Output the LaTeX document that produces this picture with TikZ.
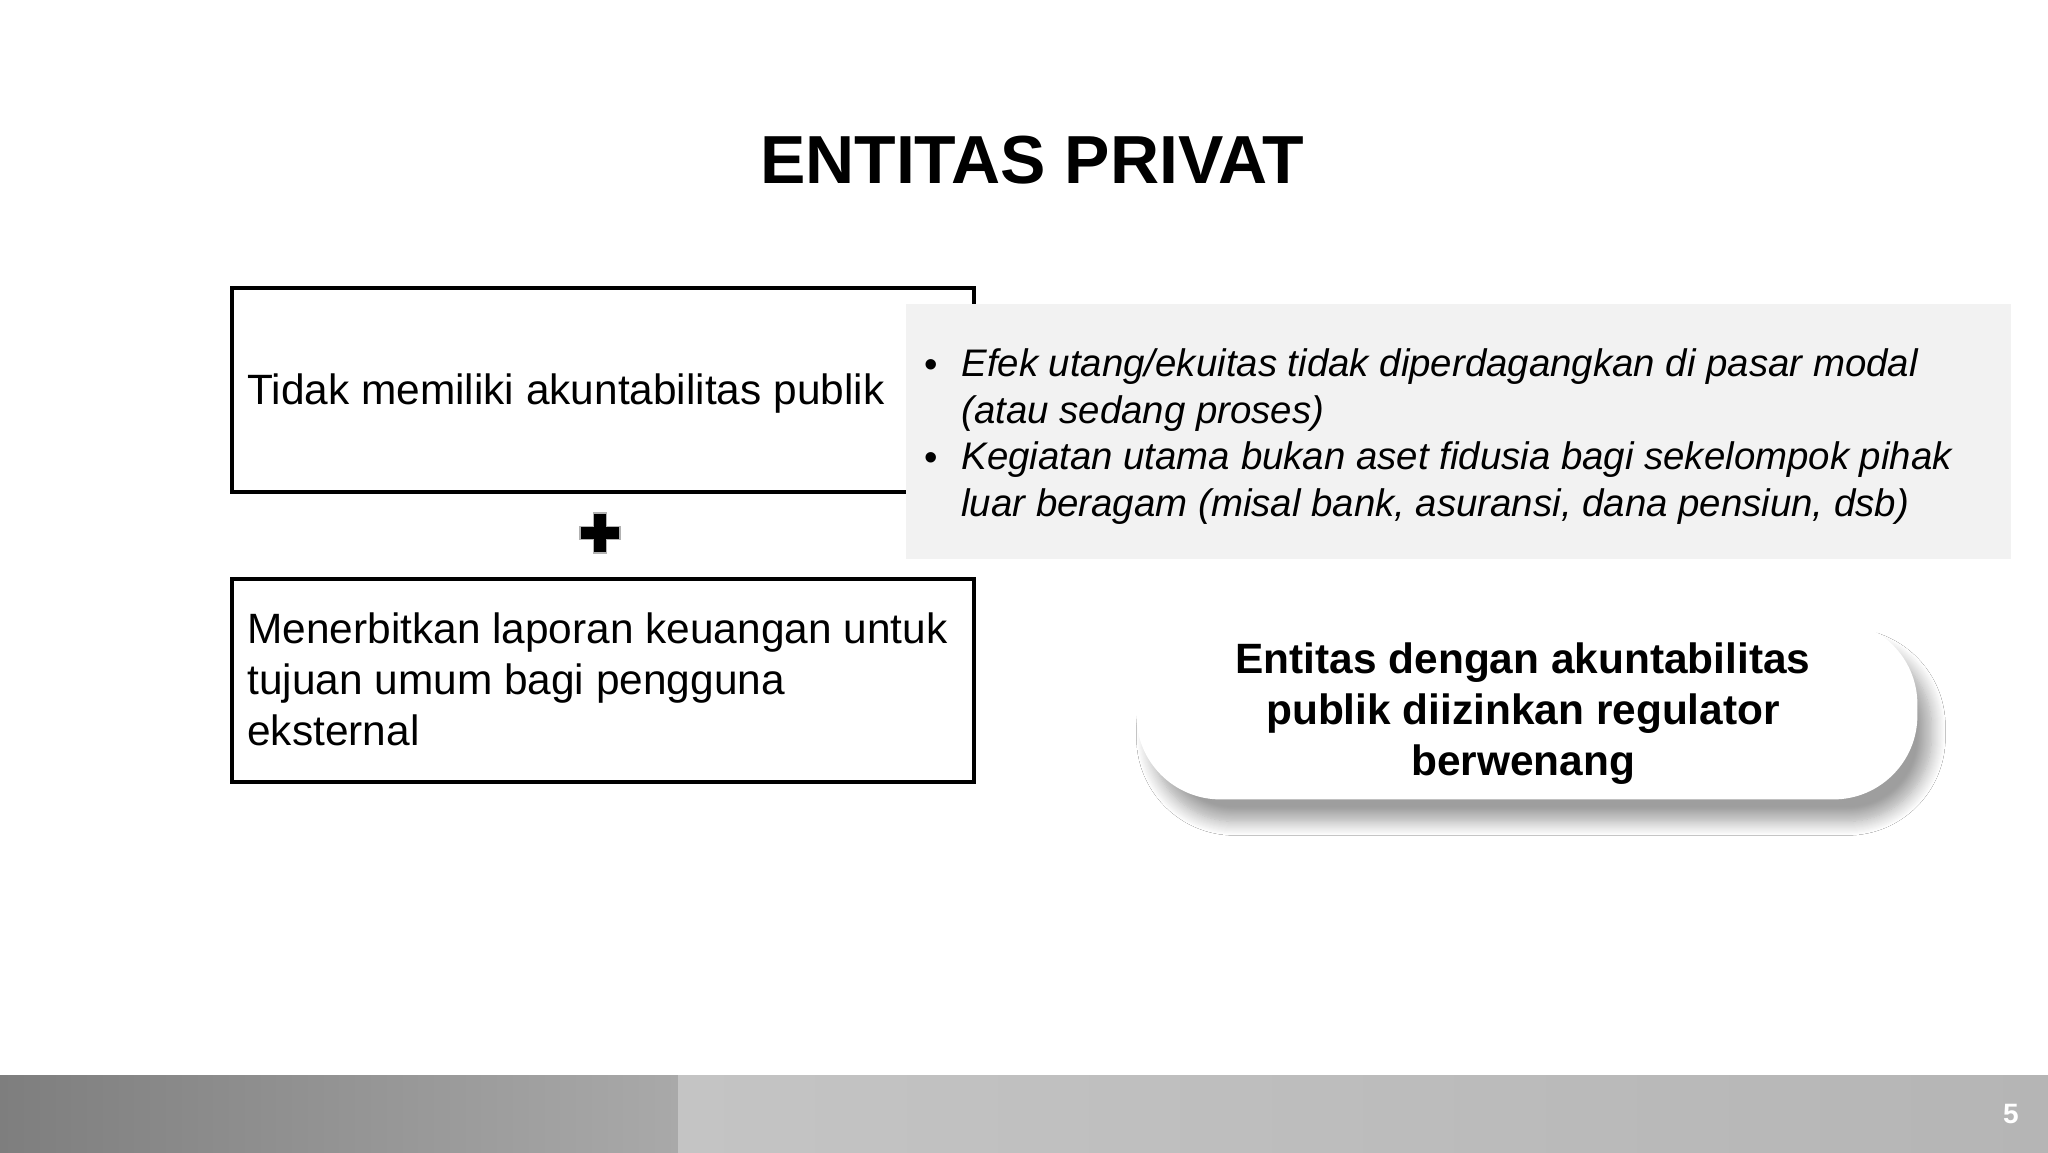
\documentclass[tikz,border=0pt]{standalone}
\usepackage{fontspec}
\setmainfont{Liberation Sans}
\usetikzlibrary{shadows.blur}
\definecolor{panelgray}{HTML}{F2F2F2}
\definecolor{bardarkL}{HTML}{7E7E7E}
\definecolor{bardarkR}{HTML}{A9A9A9}
\definecolor{barlightL}{HTML}{C4C4C4}
\definecolor{barlightR}{HTML}{B5B5B5}
\begin{document}
\begin{tikzpicture}[x=0.5pt,y=-0.5pt,
  txt/.style={font=\fontsize{21.2}{25.5}\selectfont, inner sep=0pt, align=left, anchor=base west},
  framebox/.style={draw=black, line width=2.2pt, fill=white, inner sep=0pt, anchor=north west},
]
\useasboundingbox (0,0) rectangle (2048,1152);
\fill[white] (0,0) rectangle (2048,1152);

% title
\node[font=\bfseries\fontsize{34}{40}\selectfont, anchor=base, inner sep=0pt] (title) at (1032,183) {ENTITAS PRIVAT};

% left boxes (base anchor of multi-line nodes = last line)
\node[framebox, minimum width=371pt, minimum height=102pt] (box1) at (230,286) {};
\node[framebox, minimum width=371pt, minimum height=101.5pt] (box2) at (230,577) {};
\node[txt] (t1) at (247,404) {Tidak memiliki akuntabilitas publik};
\node[txt] (t2) at (247,745) {Menerbitkan laporan keuangan untuk\\tujuan umum bagi pengguna\\eksternal};

% plus sign
\draw[fill=black, draw=gray!60, line width=0.8pt]
  (593.5,513) -- (606.5,513) -- (606.5,526.5) -- (620,526.5) -- (620,539.5) -- (606.5,539.5)
  -- (606.5,553) -- (593.5,553) -- (593.5,539.5) -- (580,539.5) -- (580,526.5) -- (593.5,526.5) -- cycle;

% gray panel with bullets
\node[fill=panelgray, inner sep=0pt, anchor=north west, minimum width=552.5pt, minimum height=127.5pt] (panel) at (906,304) {};
\node[txt, font=\fontsize{19.2}{23.2}\selectfont] (b1) at (924,377) {•};
\node[txt, font=\fontsize{19.2}{23.2}\selectfont] (b2) at (924,470) {•};
\node[txt, font=\itshape\fontsize{19.2}{23.2}\selectfont] (bt) at (961,516)
  {Efek utang/ekuitas tidak diperdagangkan di pasar modal\\(atau sedang proses)\\Kegiatan utama bukan aset fidusia bagi sekelompok pihak\\luar beragam (misal bank, asuransi, dana pensiun, dsb)};

% pill
\node[fill=white, rounded corners=42pt, inner sep=0pt, anchor=north west,
  minimum width=390.5pt, minimum height=89.5pt,
  blur shadow={shadow xshift=7pt, shadow yshift=-11pt, shadow blur radius=7pt, shadow opacity=38, shadow blur steps=14}] (pill) at (1136,620) {};
\node[txt, align=center, anchor=base, font=\bfseries\fontsize{21.2}{25.5}\selectfont] (pt) at (1523,775)
  {Entitas dengan akuntabilitas\\publik diizinkan regulator\\berwenang};

% bottom bar
\shade[left color=bardarkL, right color=bardarkR] (0,1075) rectangle (678,1152);
\shade[left color=barlightL, right color=barlightR] (678,1075) rectangle (2048,1152);
\node[font=\bfseries\fontsize{14}{16}\selectfont, text=white, inner sep=0pt] (pnum) at (2011,1114) {5};
\end{tikzpicture}
\end{document}
